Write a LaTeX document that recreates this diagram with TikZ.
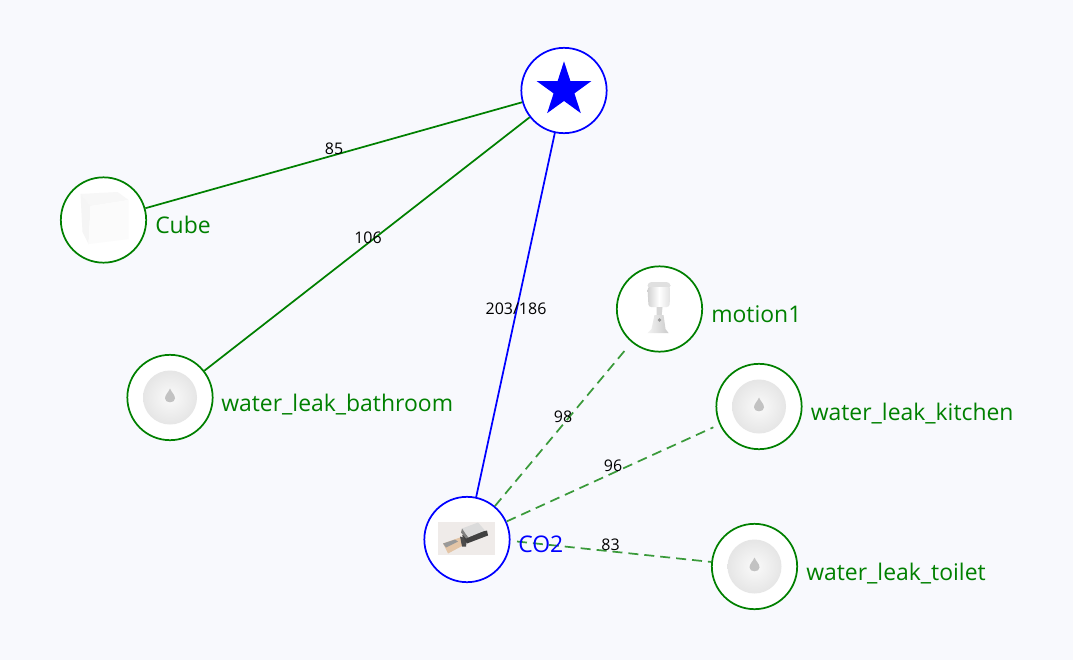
\documentclass[tikz,border=0pt]{standalone}
\usepackage{fontspec}
\setmainfont{Open Sans}
\usetikzlibrary{shapes.geometric}
\definecolor{bgc}{HTML}{F8F9FD}
\definecolor{gr}{HTML}{008000}
\definecolor{grd}{HTML}{3A9A3A}
\definecolor{bl}{HTML}{0000FF}
\tikzset{
 x=0.75pt,y=-0.75pt,
 dev/.style={circle,fill=white,line width=1.3pt,minimum size=64pt,inner sep=0pt},
 devg/.style={dev,draw=gr},
 devb/.style={dev,draw=bl},
 lbl/.style={anchor=base west,inner sep=0pt,font=\fontsize{17.2pt}{20pt}\selectfont},
 elbl/.style={inner sep=0pt,text=black,font=\fontsize{12pt}{14pt}\selectfont},
 solidg/.style={draw=gr,line width=1.3pt},
 solidb/.style={draw=bl,line width=1.3pt},
 dashg/.style={draw=grd,line width=1.3pt,dash pattern=on 7.5pt off 4.5pt},
 pics/leak/.style={code={
  \shade[inner color=black!2,outer color=black!10] (0,0) circle (27);
  \fill[black!24] (0,-9) .. controls (1.5,-5) and (5,-3) .. (5,1) .. controls (5,6) and (-5,6) .. (-5,1) .. controls (-5,-3) and (-1.5,-5) .. (0,-9) -- cycle;
 }},
 pics/cube/.style={code={
  \fill[black!3] (-23,-26) -- (14,-28) -- (25,-20) -- (-13,-14) -- cycle;
  \fill[black!4] (-23,-26) -- (-13,-14) -- (-15,24) -- (-21,12) -- cycle;
  \fill[black!1.5] (-13,-14) -- (25,-20) -- (25,19) -- (-15,24) -- cycle;
 }},
 pics/motion/.style={code={
  \fill[black!12,rounded corners=3] (-12,-27) rectangle (11,-20);
  \shade[left color=black!18,right color=black!12,middle color=white,rounded corners=2] (-12,-22) -- (11,-22) -- (10,-2) -- (-11,-2) -- cycle;
  \fill[black!16] (-3,-2) -- (3,-2) -- (2,8) -- (-3,8) -- cycle;
  \shade[left color=black!5,right color=black!20] (-5,6) -- (4,6) -- (6,20) -- (9,24) -- (-12,24) -- (-8,20) -- cycle;
  \fill[black!40] (0,11) circle (1.8);
 }},
 pics/usb/.style={code={
  \fill[black!4!bgc!96!orange] (-29,-18) rectangle (28,15);
  \fill[black!30!orange!35!white] (-24,4) -- (-7,-2) -- (-4,6) -- (-19,14) -- cycle;
  \fill[black!40] (-24,4) -- (-12,0) -- (-9,2) -- (-21,8) -- cycle;
  \fill[black!70] (-7,-3) -- (0,-1) -- (-1,7) -- (-5,7) -- cycle;
  \fill[black!75] (-5,-4) -- (20,-9) -- (21,-4) -- (0,4) -- cycle;
  \fill[black!14] (-5,-11) -- (11,-17) -- (18,-9) -- (1,-2) -- cycle;
  \fill[black!50] (-5,-11) -- (1,-2) -- (-1,-1) -- (-6,-7) -- cycle;
 }},
}
\begin{document}
\begin{tikzpicture}
\useasboundingbox (0,0) rectangle (1073,660);
\fill[bgc] (0,0) rectangle (1073,660);
\node[devb] (hub) at (564,90.5) {};
\node[devg] (cube) at (103.5,220) {};
\node[devg] (wb) at (170,397.5) {};
\node[devg] (mo) at (659.5,309) {};
\node[devg] (wk) at (759,406.5) {};
\node[devg] (wt) at (754.5,566.5) {};
\node[devb] (co) at (467,539.5) {};
\draw[solidg] (hub) -- (cube);
\draw[solidg] (hub) -- (wb);
\draw[solidb] (hub) -- (co);
\draw[dashg,shorten >=5pt] (co) -- (mo);
\draw[dashg,shorten >=5pt] (co) -- (wk);
\coordinate (tst) at (517,541.5);
\draw[dashg] (tst) -- (wt);
\node[star,star points=5,star point ratio=2.618,fill=bl,inner sep=0pt,minimum size=43pt] (hubstar) at (564,90) {};
\pic at (103.5,220) {cube};
\pic at (170,397.5) {leak};
\pic at (659.5,309) {motion};
\pic at (759,406.5) {leak};
\pic at (754.5,566.5) {leak};
\pic at (467,539.5) {usb};
\node[lbl,text=gr] (lc) at (155,233.5) {Cube};
\node[lbl,text=gr] (lb) at (221,411) {water\_leak\_bathroom};
\node[lbl,text=gr] (lm) at (711,322.5) {motion1};
\node[lbl,text=gr] (lk) at (810.5,420.5) {water\_leak\_kitchen};
\node[lbl,text=gr] (lt) at (806,580) {water\_leak\_toilet};
\node[lbl,text=bl] (lo) at (518,552.5) {CO2};
\node[elbl] (e1) at (334,148.5) {85};
\node[elbl] (e2) at (368,237.5) {106};
\node[elbl] (e3) at (516,308.5) {203/186};
\node[elbl] (e4) at (563,416.5) {98};
\node[elbl] (e5) at (613,465.5) {96};
\node[elbl] (e6) at (610.5,544.5) {83};
\end{tikzpicture}
\end{document}
